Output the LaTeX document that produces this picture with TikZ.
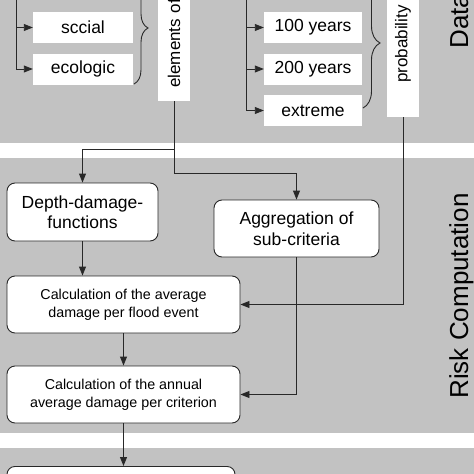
\documentclass[tikz,border=0pt]{standalone}
\usepackage{fontspec}
\setmainfont{Liberation Sans}
\usetikzlibrary{arrows.meta,decorations.pathreplacing}
\definecolor{panelgray}{RGB}{194,194,194}
\definecolor{linegray}{RGB}{40,40,40}
\tikzset{
  inbox/.style={fill=white,minimum width=100pt,minimum height=31pt,inner sep=0pt,
    font=\fontsize{17.5}{21}\selectfont},
  vbox/.style={fill=white,rotate=90,minimum height=32pt,inner sep=0pt},
  procbox/.style={draw=linegray,fill=white,rounded corners=8pt,line width=0.9pt,
    align=center,inner sep=0pt,font=\fontsize{17.5}{20.5}\selectfont},
  calcbox/.style={procbox,minimum width=233pt,minimum height=57pt,
    font=\fontsize{14.3}{18}\selectfont},
  arr/.style={draw=linegray,line width=0.9pt,-{Triangle[length=9pt,width=7pt]}},
  conn/.style={draw=linegray,line width=0.9pt},
  bracegrp/.style={draw=linegray,line width=0.9pt,decorate},
  paneltitle/.style={rotate=90,font=\fontsize{26}{30}\selectfont}
}
\begin{document}
\begin{tikzpicture}[x=1pt,y=-1pt]
\useasboundingbox (0,0) rectangle (474,474);
% panels
\fill[panelgray] (0,-60) rectangle (474,143);
\fill[panelgray] (0,158) rectangle (474,433);
\fill[panelgray] (0,448) rectangle (474,520);
\node[paneltitle,anchor=base west] (datalbl) at (468,52) {Data};
\node[paneltitle,anchor=base] (risklbl) at (468,296) {Risk Computation};

% data input
\node[inbox] (social) at (83,27.5) {sccial};
\node[inbox] (ecologic) at (83,69) {ecologic};
\node[inbox,minimum width=98pt] (hundred) at (313,27.5) {100 years};
\node[inbox,minimum width=98pt] (twohundred) at (313,69) {200 years};
\node[inbox,minimum width=98pt] (extreme) at (313,110.5) {extreme};
\node[vbox,anchor=west,inner xsep=13pt,text width=124pt,align=left,
  font=\fontsize{17}{20}\selectfont] (elements) at (174,101) {elements of};
\node[vbox,minimum width=146pt,font=\fontsize{17}{20}\selectfont] (prob) at (403,44) {probability};
\coordinate (lefttop) at (16,-10);
\coordinate (righttop) at (246,-10);
\draw[arr] (lefttop) |- (social.west);
\draw[arr] (lefttop) |- (ecologic.west);
\draw[arr] (righttop) |- (hundred.west);
\draw[arr] (righttop) |- (twohundred.west);
\draw[arr] (righttop) |- (extreme.west);
\draw[bracegrp,decoration={brace,amplitude=14pt}] (134,-28) -- (134,84);
\draw[bracegrp,decoration={brace,amplitude=17pt}] (363,-22) -- (363,108);

% risk computation
\node[procbox,minimum width=151pt,minimum height=58pt] (depth) at (82.5,212) {Depth-damage-\\functions};
\node[procbox,minimum width=165pt,minimum height=57pt] (agg) at (296.5,228.5) {Aggregation of\\sub-criteria};
\node[calcbox] (calcevent) at (123.5,304.5) {Calculation of the average\\damage per flood event};
\node[calcbox] (calcannual) at (123.5,394.5) {Calculation of the annual\\average damage per criterion};
\node[procbox,minimum width=228pt,minimum height=40pt,anchor=north] (final) at (121,466) {};

\coordinate (split) at (174,149);
\coordinate (aggturn) at (174,173);
\draw[conn] (elements.west) -- (split);
\draw[arr] (split) -| (depth.north);
\draw[arr] (split) -- (aggturn) -| (agg.north);
\draw[arr] (prob.west) |- (calcevent.east);
\draw[arr] (depth.south) -- (depth.south |- calcevent.north);
\draw[arr] (agg.south) |- (calcannual.east);
\draw[arr] (calcevent.south) -- (calcannual.north);
\draw[arr] (calcannual.south) -- (calcannual.south |- final.north);
\end{tikzpicture}
\end{document}
